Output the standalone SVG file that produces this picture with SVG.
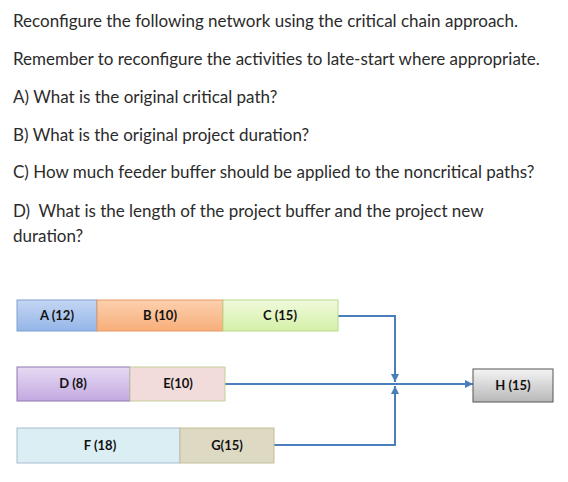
<svg xmlns="http://www.w3.org/2000/svg" width="568" height="482" viewBox="0 0 568 482">
<defs>
<linearGradient id="gA" x1="0" y1="0" x2="0" y2="1"><stop offset="0" stop-color="#c3d6f3"/><stop offset="1" stop-color="#95b6e8"/></linearGradient>
<linearGradient id="gB" x1="0" y1="0" x2="0" y2="1"><stop offset="0" stop-color="#fcd0ae"/><stop offset="1" stop-color="#f8ae7a"/></linearGradient>
<linearGradient id="gC" x1="0" y1="0" x2="0" y2="1"><stop offset="0" stop-color="#f0fadc"/><stop offset="1" stop-color="#d4f0a8"/></linearGradient>
<linearGradient id="gD" x1="0" y1="0" x2="0" y2="1"><stop offset="0" stop-color="#e6daf3"/><stop offset="1" stop-color="#c3a9e1"/></linearGradient>
<linearGradient id="gH" x1="0" y1="0" x2="0" y2="1"><stop offset="0" stop-color="#f4f4f4"/><stop offset="1" stop-color="#b8b8b8"/></linearGradient>
<marker id="arr" viewBox="0 0 10 10" refX="10" refY="5" markerWidth="8" markerHeight="8" orient="auto" markerUnits="userSpaceOnUse"><path d="M0,0 L10,5 L0,10 z" fill="#4a7ebb"/></marker>
</defs>
<style>
.q{font-family:Lato,"Open Sans","Liberation Sans",sans-serif;font-size:17px;fill:#2b2b2b;white-space:pre}
.lbl{font-family:Lato,"Open Sans","Liberation Sans",sans-serif;font-size:13px;font-weight:bold;fill:#111111;text-anchor:middle}
.ln{fill:none;stroke:#4a7ebb;stroke-width:2}
</style>
<rect width="568" height="482" fill="#ffffff"/>
<g id="questions">
<text class="q" x="13" y="27">Reconfigure the following network using the critical chain approach.</text>
<text class="q" x="13" y="65">Remember to reconfigure the activities to late-start where appropriate.</text>
<text class="q" x="13" y="103">A) What is the original critical path?</text>
<text class="q" x="13" y="141">B) What is the original project duration?</text>
<text class="q" x="13" y="178">C) How much feeder buffer should be applied to the noncritical paths?</text>
<text class="q" x="13" y="217" xml:space="preserve">D)  What is the length of the project buffer and the project new</text>
<text class="q" x="13" y="242">duration?</text>
</g>
<g id="connectors">
<path class="ln" d="M338,316 H395 V382" marker-end="url(#arr)"/>
<path class="ln" d="M274,445 H395 V386" marker-end="url(#arr)"/>
<path class="ln" d="M225,384 H473" marker-end="url(#arr)"/>
</g>
<g id="A"><rect x="17" y="300" width="80" height="31" fill="url(#gA)" stroke="#7e9fd0" stroke-width="1"/><text class="lbl" x="57" y="320">A (12)</text></g>
<g id="B"><rect x="97" y="300" width="126" height="31" fill="url(#gB)" stroke="#e39a67" stroke-width="1"/><text class="lbl" x="160" y="320">B (10)</text></g>
<g id="C"><rect x="223" y="300" width="115" height="31" fill="url(#gC)" stroke="#b7d98c" stroke-width="1"/><text class="lbl" x="280" y="320">C (15)</text></g>
<g id="D"><rect x="17" y="367" width="113" height="34" fill="url(#gD)" stroke="#8f79b3" stroke-width="1"/><text class="lbl" x="73" y="388">D (8)</text></g>
<g id="E"><rect x="130" y="367" width="95" height="34" fill="#f2dcdb" stroke="#c3cf98" stroke-width="1"/><text class="lbl" x="178" y="388">E(10)</text></g>
<g id="F"><rect x="17" y="428" width="163" height="35" fill="#dbeef4" stroke="#a6bcd0" stroke-width="1"/><text class="lbl" x="100" y="450">F (18)</text></g>
<g id="G"><rect x="180" y="428" width="94" height="35" fill="#ddd9c3" stroke="#c3c098" stroke-width="1"/><text class="lbl" x="227" y="450">G(15)</text></g>
<g id="H"><rect x="473" y="369" width="80" height="33" fill="url(#gH)" stroke="#555555" stroke-width="1"/><text class="lbl" x="513" y="390">H (15)</text></g>
</svg>
